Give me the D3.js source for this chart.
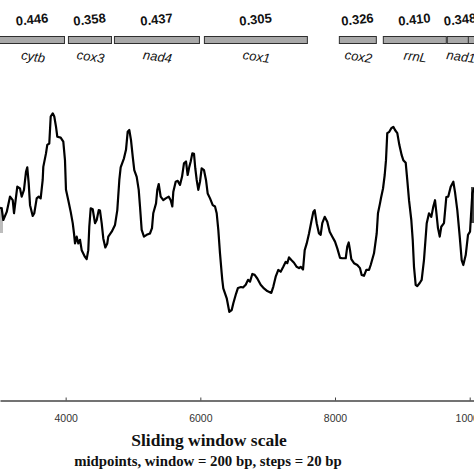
<!DOCTYPE html>
<html>
<head>
<meta charset="utf-8">
<script src="https://cdn.jsdelivr.net/npm/d3@7/dist/d3.min.js"></script>
<style>
  html, body { margin: 0; padding: 0; background: #fff; }
  svg { display: block; }
</style>
</head>
<body>
<svg id="chart" width="474" height="474"></svg>
<script>
// ---- data ----
const positions = [3025,3050,3074,3125,3174,3214,3233,3248,3282,3322,3347,3381,3411,3430,3451,3471,3511,3534,3570,3600,
3629,3659,3668,3708,3727,3757,3778,3808,3831,3857,3876,3926,3965,3990,4005,4039,4075,4105,4124,4139,
4164,4188,4213,4238,4287,4312,4336,4351,4372,4402,4436,4461,4491,4510,4535,4559,4589,4618,4633,4684,
4733,4767,4797,4817,4866,4896,4921,4945,4970,4996,5019,5055,5085,5104,5129,5163,5203,5252,5282,5301,
5342,5361,5382,5411,5450,5486,5530,5560,5584,5599,5634,5664,5698,5728,5757,5787,5812,5836,5857,5881,
5906,5925,5946,5970,5995,6020,6054,6084,6109,6144,6184,6218,6243,6267,6292,6317,6326,6341,6392,6430,
6466,6490,6530,6559,6604,6634,6674,6708,6738,6772,6807,6846,6896,6945,6994,7054,7084,7119,7158,7193,
7232,7268,7291,7317,7351,7391,7431,7465,7490,7525,7550,7580,7614,7648,7678,7698,7728,7762,7787,7811,
7847,7885,7921,7960,8000,8034,8074,8108,8159,8182,8203,8223,8242,8282,8331,8371,8396,8430,8465,8505,
8530,8579,8619,8638,8668,8683,8713,8738,8757,8776,8806,8836,8866,8891,8925,8955,8990,9014,9050,9073,
9099,9133,9154,9173,9198,9222,9258,9287,9321,9362,9396,9430,9460,9485,9504,9529,9555,9578,9618,9653,
9682,9718,9757,9782,9816,9852,9881,9905,9941,9975,10005,10039,10064];

const diversity = [0.427,0.426,0.400,0.418,0.452,0.444,0.415,0.433,0.474,0.470,
0.452,0.467,0.507,0.517,0.482,0.433,0.409,0.415,0.448,0.452,
0.448,0.489,0.518,0.548,0.567,0.570,0.630,0.637,0.630,0.607,0.585,0.583,0.574,0.533,0.467,0.444,0.418,0.393,0.370,0.348,
0.363,0.348,0.356,0.333,0.318,0.313,0.333,0.385,0.426,0.424,0.393,0.400,0.422,0.421,0.393,0.359,0.339,0.348,0.363,0.374,
0.389,0.422,0.489,0.517,0.537,0.556,0.596,0.600,0.578,0.541,0.511,0.496,0.467,0.430,0.378,0.363,0.367,0.370,0.382,0.415,
0.437,0.467,0.480,0.452,0.444,0.448,0.452,0.444,0.430,0.463,0.485,0.487,0.478,0.496,0.526,0.530,0.500,0.518,0.530,0.548,
0.547,0.515,0.489,0.467,0.485,0.515,0.511,0.489,0.459,0.448,0.433,0.430,0.415,0.378,0.326,0.282,0.267,0.248,0.226,0.196,
0.200,0.215,0.236,0.249,0.251,0.250,0.256,0.267,0.263,0.280,0.278,0.270,0.256,0.248,0.242,0.238,0.252,0.274,0.289,0.285,
0.296,0.307,0.304,0.317,0.311,0.305,0.296,0.293,0.296,0.290,0.333,0.348,0.370,0.396,0.418,0.422,0.393,0.370,0.367,0.393,
0.407,0.396,0.374,0.363,0.352,0.337,0.316,0.315,0.315,0.341,0.350,0.333,0.313,0.304,0.300,0.293,0.278,0.276,0.289,0.289,
0.300,0.326,0.370,0.415,0.437,0.449,0.470,0.500,0.533,0.593,0.596,0.604,0.607,0.600,0.593,0.567,0.544,0.533,0.527,0.489,
0.444,0.400,0.356,0.296,0.256,0.253,0.260,0.267,0.311,0.393,0.415,0.407,0.430,0.444,0.418,0.382,0.363,0.385,0.393,0.451,
0.452,0.474,0.485,0.462,0.422,0.363,0.311,0.300,0.322,0.367,0.374,0.459,0.471];

const geneNames  = ["cytb", "cox3", "nad4", "cox1", "cox2", "rrnL", "nad1", ""];
const geneStarts = [2900, 4034, 4717, 6053, 8057, 8710, 9660, 9972];
const geneEnds   = [3990, 4688, 5994, 7597, 8621, 9660, 10280, 10400];
const geneValues = ["0.446", "0.358", "0.437", "0.305", "0.326", "0.410", "0.348", ""];

const tickValues = [4000, 6000, 8000, 10000];
const xTitle = "Sliding window scale";
const xSubtitle = "midpoints, window = 200 bp, steps = 20 bp";

// ---- layout ----
const svg = d3.select("#chart");
const x = d3.scaleLinear().domain([3025, 10064]).range([0, 474]);
const y = d3.scaleLinear().domain([0, 0.8]).range([400, 40]);
const xVis = d3.scaleLinear().domain(x.domain()).range(x.range()).clamp(true);

// edge fragments (cropped elements)
svg.append("rect").attr("x", 0).attr("y", 207).attr("width", 3).attr("height", 26).attr("fill", "#bdbdbd");
svg.append("rect").attr("x", 471).attr("y", 187).attr("width", 3).attr("height", 36).attr("fill", "#4a4a4a");

// gene bars
const genes = geneNames.map((n, i) => ({ name: n, start: geneStarts[i], end: geneEnds[i], value: geneValues[i] }));
const barY = 36, barH = 7;
svg.append("g").selectAll("rect").data(genes).join("rect")
  .attr("x", d => x(d.start) + 0.5)
  .attr("y", barY + 0.5)
  .attr("width", d => x(d.end) - x(d.start) - 1)
  .attr("height", barH)
  .attr("fill", "#a9a9a9")
  .attr("stroke", "#2e2e2e")
  .attr("stroke-width", 1);

const mid = d => (xVis(d.start) + xVis(d.end)) / 2;

svg.append("g").selectAll("text").data(genes.filter(d => d.value)).join("text")
  .attr("transform", d => `translate(${mid(d)},24) rotate(-6)`)
  .attr("text-anchor", "middle")
  .attr("font-family", "Liberation Sans, Arial, sans-serif")
  .attr("font-size", 13)
  .attr("font-weight", 600)
  .attr("fill", "#111")
  .text(d => d.value);

svg.append("g").selectAll("text").data(genes.filter(d => d.name)).join("text")
  .attr("transform", d => `translate(${mid(d)},61) rotate(8)`)
  .attr("text-anchor", "middle")
  .attr("font-family", "Liberation Sans, Arial, sans-serif")
  .attr("font-style", "italic")
  .attr("font-size", 13)
  .attr("fill", "#111")
  .text(d => d.name);

// line
const pts = positions.map((p, i) => [p, diversity[i]]);
svg.append("path")
  .datum(pts)
  .attr("fill", "none")
  .attr("stroke", "#000")
  .attr("stroke-width", 2.2)
  .attr("stroke-linejoin", "round")
  .attr("d", d3.line().x(d => x(d[0])).y(d => y(d[1])));

// axis
const axis = d3.axisBottom(x).tickValues(tickValues).tickFormat(d3.format("d"))
  .tickSizeInner(-3).tickSizeOuter(0).tickPadding(14);
const gx = svg.append("g").attr("transform", "translate(0,400.5)").call(axis);
gx.select(".domain").attr("stroke", "#444").attr("stroke-width", 1.5);
gx.selectAll(".tick line").attr("stroke", "#444");
gx.selectAll(".tick text")
  .attr("font-family", "Liberation Sans, Arial, sans-serif")
  .attr("font-size", 10.5)
  .attr("fill", "#333");

svg.append("text")
  .attr("x", 209).attr("y", 446)
  .attr("text-anchor", "middle")
  .attr("font-family", "Liberation Serif, Times New Roman, serif")
  .attr("font-weight", "bold")
  .attr("font-size", 17.5)
  .attr("fill", "#111")
  .text(xTitle);

svg.append("text")
  .attr("x", 208).attr("y", 466)
  .attr("text-anchor", "middle")
  .attr("font-family", "Liberation Serif, Times New Roman, serif")
  .attr("font-weight", "bold")
  .attr("font-size", 14.8)
  .attr("fill", "#111")
  .text(xSubtitle);
</script>
</body>
</html>
